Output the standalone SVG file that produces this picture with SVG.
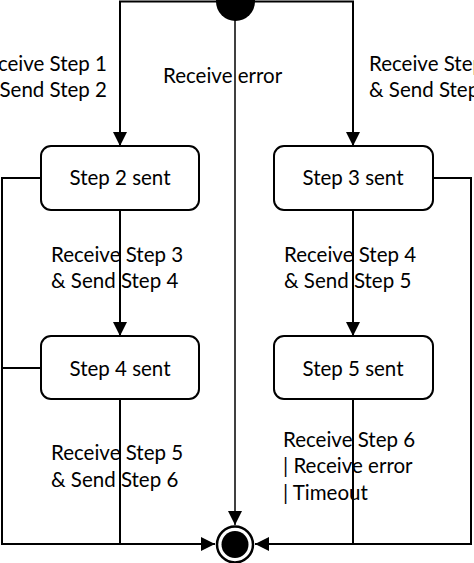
<svg xmlns="http://www.w3.org/2000/svg" width="474" height="563" viewBox="0 0 474 563">
<style>
.box{fill:#fff;stroke:#000;stroke-width:2}
.ln{fill:none;stroke:#000;stroke-width:2}
.thin{fill:none;stroke:#000;stroke-width:1.5}
text{font-family:Lato,"Open Sans",sans-serif;font-size:20.5px;fill:#000}
.c{text-anchor:middle}
</style>
<defs>
<marker id="ah" markerWidth="14" markerHeight="14" viewBox="0 0 14 14" refX="14" refY="7" orient="auto" markerUnits="userSpaceOnUse">
<path d="M0,0 L14,7 L0,14 Z" fill="#000"/>
</marker>
</defs>
<rect width="474" height="563" fill="#fff"/>
<g id="connectors">
<path class="ln" d="M235,1.5 H120 V146" marker-end="url(#ah)"/>
<path class="ln" d="M235,1.5 H353 V146" marker-end="url(#ah)"/>
<path class="thin" d="M235,20 V525" marker-end="url(#ah)"/>
<path class="ln" d="M120,210 V336" marker-end="url(#ah)"/>
<path class="ln" d="M353,210 V336" marker-end="url(#ah)"/>
<path class="ln" d="M41,178 H2 V544 H215" marker-end="url(#ah)"/>
<path class="ln" d="M41,368 H2"/>
<path class="ln" d="M120,399 V544"/>
<path class="ln" d="M433,178 H471 V544 H255" marker-end="url(#ah)"/>
<path class="ln" d="M353,399 V544"/>
</g>
<g id="labels">
<text x="107" y="71" text-anchor="end">Receive Step 1</text>
<text x="107" y="97" text-anchor="end">&amp; Send Step 2</text>
<text x="369" y="71">Receive Step 2</text>
<text x="369" y="97">&amp; Send Step 3</text>
<text x="163" y="83">Receive error</text>
<text x="51" y="262">Receive Step 3</text>
<text x="51" y="288">&amp; Send Step 4</text>
<text x="284" y="262">Receive Step 4</text>
<text x="284" y="288">&amp; Send Step 5</text>
<text x="51" y="460">Receive Step 5</text>
<text x="51" y="487">&amp; Send Step 6</text>
<text x="283" y="447">Receive Step 6</text>
<text x="283" y="473">| Receive error</text>
<text x="283" y="500">| Timeout</text>
</g>
<g id="initial">
<circle cx="235.5" cy="1.5" r="19.5" fill="#000"/>
</g>
<g id="step2">
<rect class="box" x="41" y="146" width="158" height="64" rx="10"/>
<text class="c" x="120" y="185">Step 2 sent</text>
</g>
<g id="step3">
<rect class="box" x="274" y="146" width="159" height="64" rx="10"/>
<text class="c" x="353" y="185">Step 3 sent</text>
</g>
<g id="step4">
<rect class="box" x="41" y="336" width="158" height="63" rx="10"/>
<text class="c" x="120" y="376">Step 4 sent</text>
</g>
<g id="step5">
<rect class="box" x="274" y="336" width="159" height="63" rx="10"/>
<text class="c" x="353" y="376">Step 5 sent</text>
</g>
<g id="final">
<circle cx="235" cy="544.5" r="18" fill="#fff" stroke="#000" stroke-width="2.5"/>
<circle cx="235" cy="544.5" r="13.5" fill="#000"/>
</g>
</svg>
